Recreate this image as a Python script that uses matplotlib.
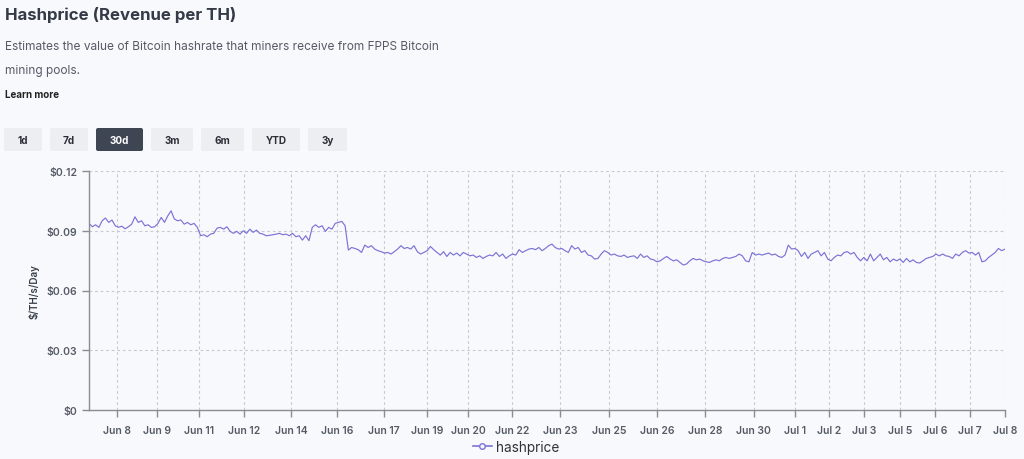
import matplotlib
matplotlib.use("Agg")
import matplotlib.pyplot as plt
from matplotlib.patches import FancyBboxPatch
from matplotlib.lines import Line2D
from matplotlib.ticker import FuncFormatter

# hashprice readings, $/TH/s/Day left to right (Jun 7 -> Jul 8)
hashprice_a = [0.0937, 0.0920, 0.0930, 0.0917, 0.0950, 0.0964, 0.0942, 0.0954, 0.0925, 0.0917,
               0.0923, 0.0910, 0.0920, 0.0933, 0.0970, 0.0942, 0.0950, 0.0925, 0.0930, 0.0917,
               0.0920, 0.0937, 0.0967, 0.0942, 0.0975, 0.1000, 0.0959, 0.0950, 0.0954, 0.0933,
               0.0942, 0.0930, 0.0937, 0.0917, 0.0875, 0.0880, 0.0870, 0.0883, 0.0887, 0.0913]
hashprice_b = [0.0917, 0.0908, 0.0920, 0.0897, 0.0887, 0.0897, 0.0883, 0.0900, 0.0887, 0.0908,
               0.0892, 0.0903, 0.0887, 0.0883, 0.0875, 0.0877, 0.0880, 0.0883, 0.0887, 0.0880,
               0.0883, 0.0875, 0.0887, 0.0870, 0.0875, 0.0853, 0.0875, 0.0850, 0.0917, 0.0930,
               0.0917, 0.0925, 0.0897, 0.0917, 0.0908, 0.0937, 0.0942, 0.0947, 0.0925, 0.0803]
hashprice_c = [0.0816, 0.0811, 0.0805, 0.0791, 0.0828, 0.0816, 0.0825, 0.0808, 0.0800, 0.0795,
               0.0788, 0.0791, 0.0783, 0.0795, 0.0808, 0.0825, 0.0811, 0.0816, 0.0808, 0.0825,
               0.0795, 0.0783, 0.0791, 0.0800, 0.0821, 0.0805, 0.0791, 0.0778, 0.0795, 0.0771,
               0.0791, 0.0778, 0.0788, 0.0774, 0.0791, 0.0783, 0.0774, 0.0778, 0.0766, 0.0774]
hashprice_d = [0.0761, 0.0771, 0.0778, 0.0774, 0.0791, 0.0771, 0.0783, 0.0761, 0.0774, 0.0783,
               0.0778, 0.0805, 0.0791, 0.0800, 0.0808, 0.0811, 0.0805, 0.0816, 0.0800, 0.0811,
               0.0825, 0.0833, 0.0816, 0.0808, 0.0811, 0.0800, 0.0791, 0.0825, 0.0808, 0.0816,
               0.0791, 0.0800, 0.0778, 0.0774, 0.0758, 0.0761, 0.0783, 0.0800, 0.0791, 0.0778]
hashprice_e = [0.0783, 0.0774, 0.0771, 0.0778, 0.0766, 0.0771, 0.0774, 0.0761, 0.0783, 0.0766,
               0.0774, 0.0758, 0.0754, 0.0744, 0.0749, 0.0761, 0.0771, 0.0758, 0.0749, 0.0754,
               0.0741, 0.0728, 0.0733, 0.0749, 0.0761, 0.0754, 0.0758, 0.0749, 0.0744, 0.0741,
               0.0749, 0.0754, 0.0749, 0.0761, 0.0766, 0.0761, 0.0766, 0.0771, 0.0783, 0.0774]
hashprice_f = [0.0749, 0.0744, 0.0791, 0.0778, 0.0783, 0.0778, 0.0783, 0.0788, 0.0778, 0.0783,
               0.0771, 0.0766, 0.0778, 0.0828, 0.0808, 0.0811, 0.0800, 0.0771, 0.0791, 0.0761,
               0.0783, 0.0791, 0.0800, 0.0774, 0.0791, 0.0758, 0.0749, 0.0766, 0.0778, 0.0774,
               0.0791, 0.0795, 0.0783, 0.0791, 0.0766, 0.0749, 0.0766, 0.0749, 0.0783, 0.0749]
hashprice_g = [0.0766, 0.0783, 0.0754, 0.0766, 0.0744, 0.0758, 0.0749, 0.0758, 0.0741, 0.0761,
               0.0744, 0.0754, 0.0741, 0.0738, 0.0749, 0.0761, 0.0766, 0.0771, 0.0783, 0.0774,
               0.0783, 0.0774, 0.0771, 0.0761, 0.0783, 0.0774, 0.0791, 0.0800, 0.0788, 0.0791,
               0.0778, 0.0791, 0.0744, 0.0749, 0.0766, 0.0778, 0.0791, 0.0811, 0.0800, 0.0808]
hashprice = hashprice_a + hashprice_b + hashprice_c + hashprice_d + hashprice_e + hashprice_f + hashprice_g

# tick labels and the sample index they sit on
tick_labels = ["Jun 8", "Jun 9", "Jun 11", "Jun 12", "Jun 14", "Jun 16", "Jun 17", "Jun 19",
               "Jun 20", "Jun 22", "Jun 23", "Jun 25", "Jun 26", "Jun 28", "Jun 30", "Jul 1",
               "Jul 2", "Jul 3", "Jul 5", "Jul 6", "Jul 7", "Jul 8"]
tick_index = [8.5, 20.7, 33.5, 47.2, 61.5, 75.5, 89.9, 103, 115.4, 128.8, 143.5, 158.4,
              173, 187.6, 202.5, 215, 225.4, 236, 247, 257.7, 268.3, 279]
y_ticks = [0, 0.03, 0.06, 0.09, 0.12]

ranges = ["1d", "7d", "30d", "3m", "6m", "YTD", "3y"]
active_range = "30d"

BG = "#f8f9fc"
LINE = "#7b73d6"
DARK = "#343b47"
GREY = "#555b66"

plt.rcParams["font.family"] = ["Inter", "DejaVu Sans"]

fig = plt.figure(figsize=(10.24, 4.6), dpi=100, facecolor=BG)

# page header drawn on an overlay in pixel units
ui = fig.add_axes([0, 0, 1, 1])
ui.set_xlim(0, 1024)
ui.set_ylim(460, 0)
ui.axis("off")
ui.text(5, 15, "Hashprice (Revenue per TH)", fontsize=12.1, fontweight="bold", color=DARK, va="center")
ui.text(5, 47, "Estimates the value of Bitcoin hashrate that miners receive from FPPS Bitcoin",
        fontsize=8.55, color=GREY, va="center")
ui.text(5, 71, "mining pools.", fontsize=8.55, color=GREY, va="center")
ui.text(5, 95, "Learn more", fontsize=7, fontweight="bold", color="#222222", va="center")

btn_left = [4, 50, 96, 151, 201, 252, 308]
btn_width = [38, 38, 47, 42, 43, 48, 39]
for lab, x0, w in zip(ranges, btn_left, btn_width):
    on = lab == active_range
    ui.add_patch(FancyBboxPatch((x0, 129), w, 23, boxstyle="round,pad=0,rounding_size=2",
                                facecolor="#3e4653" if on else "#eceef2", edgecolor="none"))
    ui.text(x0 + w / 2, 141, lab, ha="center", va="center", fontsize=7.2, fontweight="bold",
            color="white" if on else "#2b2f36")

ax = fig.add_axes([89 / 1024, 49 / 460, 916 / 1024, 239 / 460])
ax.set_facecolor(BG)
ax.plot(range(len(hashprice)), hashprice, color=LINE, linewidth=0.85)
ax.set_xlim(0, len(hashprice) - 1)
ax.set_ylim(0, 0.12)
ax.set_yticks(y_ticks)
ax.yaxis.set_major_formatter(FuncFormatter(lambda v, p: "$0" if v == 0 else "$%g" % v))
ax.set_xticks(tick_index)
ax.set_xticklabels(tick_labels)
ax.grid(True, linestyle=(0, (2.5, 2.5)), color="#c8cad0", linewidth=0.8)
ax.set_axisbelow(True)
for s in ["top", "right"]:
    ax.spines[s].set_visible(False)
for s in ["left", "bottom"]:
    ax.spines[s].set_color("#8a8d93")
    ax.spines[s].set_linewidth(1.0)
ax.tick_params(colors="#8a8d93", length=5, width=1, labelcolor=GREY, labelsize=7.5)
ax.tick_params(axis="x", pad=6)
for t in ax.get_xticklabels() + ax.get_yticklabels():
    t.set_fontweight("semibold")
ax.set_ylabel("$/TH/s/Day", fontsize=7, fontweight="semibold", color=DARK, labelpad=5)

handle = Line2D([], [], color=LINE, linewidth=1.2, marker="o", markersize=4,
                markerfacecolor=BG, markeredgecolor=LINE)
fig.legend([handle], ["hashprice"], loc="center", bbox_to_anchor=(516 / 1024, 1 - 448 / 460),
           frameon=False, fontsize=9.8, handlelength=1.4, handletextpad=0.3, labelcolor="#333333")

fig.savefig("out.png", dpi=100, facecolor=BG)
